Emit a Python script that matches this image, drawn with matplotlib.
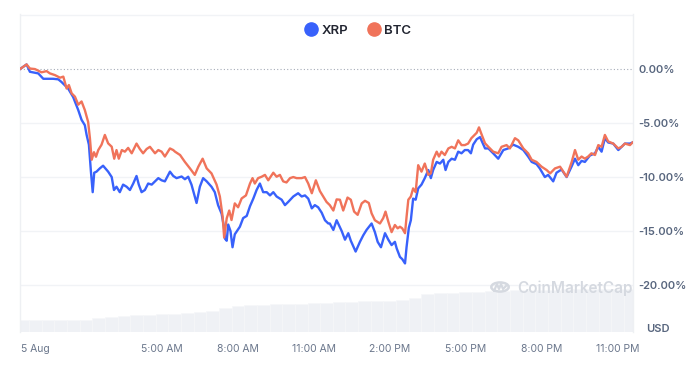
import numpy as np
import matplotlib
matplotlib.use("Agg")
import matplotlib.pyplot as plt
from matplotlib.lines import Line2D
from matplotlib.patches import Circle

plt.rcParams['font.family'] = ['Inter', 'DejaVu Sans']

# hours since 00:00 on 5 Aug, % change since start of window
xrp_hours = [-0.60, -0.34, -0.21, 0.12, 0.32, 0.71, 0.91, 1.04, 1.30, 1.50, 1.70, 1.83, 1.96, 2.03,
             2.12, 2.20, 2.27, 2.33, 2.42, 2.55, 2.68, 2.88, 3.02, 3.11, 3.21, 3.34, 3.47, 3.61,
             3.74, 3.87, 4.00, 4.09, 4.20, 4.33, 4.46, 4.60, 4.73, 4.86, 4.99, 5.12, 5.32, 5.45,
             5.58, 5.78, 5.91, 6.04, 6.17, 6.37, 6.50, 6.63, 6.77, 6.96, 7.09, 7.22, 7.36, 7.45,
             7.49, 7.56, 7.62, 7.71, 7.79, 7.88, 8.08, 8.21, 8.35, 8.48, 8.61, 8.74, 8.87, 9.00,
             9.14, 9.27, 9.40, 9.53, 9.73, 9.86, 9.99, 10.19, 10.38, 10.52, 10.65, 10.78, 10.92,
             11.04, 11.17, 11.31, 11.44, 11.57, 11.63, 11.77, 11.90, 12.10, 12.23, 12.36, 12.46,
             12.65, 12.82, 12.95, 13.08, 13.28, 13.41, 13.52, 13.65, 13.81, 13.94, 14.07, 14.20,
             14.27, 14.40, 14.49, 14.60, 14.66, 14.75, 14.83, 14.92, 15.02, 15.12, 15.25, 15.38,
             15.52, 15.62, 15.71, 15.85, 15.98, 16.11, 16.20, 16.31, 16.44, 16.57, 16.70, 16.83,
             16.96, 17.09, 17.20, 17.29, 17.43, 17.56, 17.76, 17.89, 18.08, 18.28, 18.48, 18.67,
             18.87, 19.07, 19.27, 19.46, 19.60, 19.79, 19.92, 20.12, 20.25, 20.45, 20.58, 20.78,
             20.98, 21.18, 21.31, 21.44, 21.57, 21.70, 21.90, 22.10, 22.23, 22.36, 22.49, 22.62,
             22.82, 23.02, 23.15, 23.28, 23.48, 23.58]
xrp_pct = [0.0, 0.43, -0.25, -0.40, -0.90, -0.90, -0.95, -1.20, -1.80, -2.60, -3.80, -4.70, -5.20, -6.10,
           -7.00, -9.50, -11.40, -9.60, -9.50, -9.20, -8.95, -9.50, -10.0, -11.2, -10.9, -11.4, -10.7, -10.9,
           -11.2, -10.6, -9.9, -10.7, -11.4, -11.2, -10.6, -10.7, -10.4, -10.1, -10.3, -10.4, -9.5, -9.9,
           -10.1, -9.95, -10.2, -9.97, -10.7, -12.4, -10.9, -10.1, -10.4, -10.9, -11.4, -12.6, -13.4, -14.6,
           -15.7, -15.9, -14.4, -15.0, -16.5, -15.3, -14.6, -13.8, -13.6, -12.7, -12.0, -11.2, -10.6, -11.4,
           -11.4, -11.7, -11.4, -11.8, -12.1, -12.6, -12.3, -11.8, -11.5, -11.8, -11.7, -12.0, -12.9,
           -12.6, -12.8, -13.3, -14.0, -14.3, -14.3, -14.9, -14.0, -15.0, -15.8, -15.2, -15.9,
           -16.9, -16.0, -15.4, -14.9, -14.3, -15.1, -16.0, -16.5, -15.2, -15.8, -16.3, -16.0,
           -16.6, -17.4, -17.6, -18.0, -16.5, -14.7, -14.0, -12.0, -12.1, -11.05, -10.7, -10.1,
           -9.35, -10.1, -9.35, -8.6, -8.75, -8.4, -9.35, -8.6, -8.3, -8.4, -7.65, -7.8,
           -7.5, -7.5, -7.8, -7.0, -6.5, -6.3, -7.35, -7.35, -7.8, -8.3, -7.5, -7.35,
           -7.0, -7.2, -7.5, -8.1, -8.6, -8.8, -9.2, -10.0, -9.8, -10.4, -9.6, -9.3,
           -10.0, -9.0, -8.3, -8.9, -8.5, -8.6, -8.0, -7.8, -7.2, -7.65, -6.4, -6.8,
           -6.9, -7.5, -7.2, -6.9, -6.9, -6.8]

btc_hours = [-0.60, -0.34, -0.21, -0.01, 0.25, 0.45, 0.58, 0.78, 0.98, 1.11, 1.24, 1.33, 1.44, 1.57,
             1.70, 1.83, 1.96, 2.09, 2.16, 2.23, 2.32, 2.40, 2.49, 2.62, 2.75, 2.88, 3.02, 3.12,
             3.21, 3.30, 3.42, 3.54, 3.67, 3.81, 4.00, 4.13, 4.26, 4.40, 4.53, 4.73, 4.86, 4.99,
             5.12, 5.32, 5.45, 5.52, 5.72, 5.91, 6.11, 6.30, 6.44, 6.61, 6.77, 6.96, 7.16, 7.29,
             7.40, 7.46, 7.56, 7.66, 7.75, 7.88, 8.01, 8.15, 8.32, 8.48, 8.58, 8.67, 8.80, 8.94,
             9.07, 9.20, 9.40, 9.53, 9.66, 9.79, 9.92, 10.06, 10.19, 10.32, 10.52, 10.65, 10.78,
             10.92, 11.08, 11.24, 11.37, 11.50, 11.63, 11.77, 11.90, 12.03, 12.16, 12.33, 12.46,
             12.59, 12.73, 12.89, 13.02, 13.17, 13.28, 13.41, 13.61, 13.74, 13.83, 13.94, 14.07,
             14.20, 14.31, 14.40, 14.49, 14.60, 14.66, 14.73, 14.83, 14.92, 15.02, 15.12, 15.25,
             15.38, 15.52, 15.62, 15.71, 15.85, 15.94, 16.04, 16.17, 16.31, 16.44, 16.57, 16.70,
             16.83, 16.96, 17.09, 17.22, 17.43, 17.52, 17.63, 17.76, 17.89, 18.08, 18.28, 18.41,
             18.61, 18.74, 18.94, 19.07, 19.27, 19.46, 19.60, 19.79, 19.99, 20.19, 20.33, 20.52,
             20.72, 20.98, 21.18, 21.31, 21.44, 21.57, 21.70, 21.83, 21.96, 22.10, 22.23, 22.36,
             22.49, 22.62, 22.82, 23.02, 23.15, 23.28, 23.48, 23.58]
btc_pct = [0.0, 0.43, 0.05, 0.0, -0.30, -0.19, -0.40, -0.56, -0.80, -0.70, -1.80, -1.48, -2.25, -2.56,
           -3.30, -3.00, -3.80, -4.90, -6.40, -8.40, -7.70, -8.12, -7.50, -7.00, -6.10, -6.88, -7.19, -8.30,
           -7.50, -8.30, -7.50, -7.65, -7.30, -7.80, -6.90, -7.40, -7.80, -7.40, -7.20, -7.80, -7.50, -7.65,
           -8.10, -7.35, -7.50, -7.65, -7.96, -8.60, -9.20, -9.80, -9.04, -8.30, -9.20, -9.66, -10.7, -11.8,
           -13.67, -15.6, -13.83, -13.1, -13.98, -12.44, -12.8, -11.98, -11.7, -10.6, -10.1, -10.6, -10.1, -9.97,
           -9.8, -10.3, -9.6, -9.97, -9.8, -10.4, -10.5, -10.1, -10.0, -10.1, -10.1, -10.0, -10.6,
           -11.5, -10.3, -11.3, -11.8, -12.3, -12.6, -13.1, -12.07, -12.1, -13.1, -11.9, -12.1,
           -13.2, -13.5, -12.44, -12.2, -12.4, -13.36, -14.0, -14.3, -13.8, -13.2, -14.13, -15.1,
           -14.44, -14.75, -14.6, -14.75, -15.2, -13.7, -12.1, -11.8, -11.05, -11.4, -8.9, -9.5,
           -8.75, -9.8, -9.66, -8.4, -7.65, -8.1, -7.65, -7.96, -7.35, -7.2, -7.35, -6.6,
           -7.04, -7.04, -6.9, -6.4, -5.9, -5.4, -6.1, -6.88, -7.2, -7.65, -7.8, -7.2,
           -7.04, -7.35, -6.4, -6.6, -7.35, -7.8, -8.4, -8.6, -9.04, -9.35, -9.66, -9.2,
           -9.04, -9.97, -8.6, -7.5, -8.4, -8.1, -8.3, -8.1, -7.8, -7.96, -7.04, -7.2,
           -6.1, -6.7, -6.9, -7.35, -7.2, -6.9, -7.04, -6.8]

# rolling volume (relative units), half-hour bars
vol_hours = np.arange(-0.5, 23.51, 0.5)
vol_values = [12, 12, 12, 12, 12, 12, 14, 15, 16, 17, 17.5, 18, 18.5, 19, 20, 21, 24, 26, 27, 27.5,
              28, 28, 28.5, 29, 29, 30, 30.5, 31, 31, 31.5, 32, 34, 38, 39, 39.5, 40, 40.5, 41,
              41.5, 42, 42, 42.5, 42.5, 43, 43, 43, 43, 43, 43]

tick_hours = [0, 5, 8, 11, 14, 17, 20, 23]
tick_labels = ['5 Aug', '5:00 AM', '8:00 AM', '11:00 AM', '2:00 PM', '5:00 PM', '8:00 PM', '11:00 PM']
y_ticks = [0, -5, -10, -15, -20]
y_labels = ['0.00%', '-5.00%', '-10.00%', '-15.00%', '-20.00%']

xrp_color = '#3861fb'
btc_color = '#f0735a'
grey_text = '#58667e'

fig = plt.figure(figsize=(6.96, 3.65), dpi=100)
ax = fig.add_axes([20 / 696, 1 - 332 / 365, 613 / 696, 318 / 365])
axv = ax.twinx()
ax.set_zorder(axv.get_zorder() + 1)
ax.patch.set_visible(False)

axv.bar(vol_hours, vol_values, width=0.5, color='#eff1f5', edgecolor='#f6f7f9', linewidth=0.4)
axv.set_ylim(0, 318)
axv.axis('off')

for g in [5, -5, -10, -15, -20]:
    ax.axhline(g, color='#f1f3f6', lw=1, zorder=0)
ax.axhline(0, color='#a6acb8', lw=0.8, ls=(0, (1, 2)), zorder=1)

ax.plot(xrp_hours, xrp_pct, color=xrp_color, lw=1.7, zorder=3)
ax.plot(btc_hours, btc_pct, color=btc_color, lw=1.7, zorder=4)

ax.set_xlim(-0.6, 23.6)
ax.set_ylim(-24.35, 5.1)

ax.yaxis.tick_right()
ax.set_yticks(y_ticks)
ax.set_yticklabels(y_labels)
ax.set_xticks(tick_hours)
ax.set_xticklabels(tick_labels)
ax.tick_params(axis='y', length=0, pad=4, labelsize=8, labelcolor=grey_text)
ax.tick_params(axis='x', length=0, pad=9, labelsize=7.5, labelcolor='#6b778c')
for lab in ax.get_yticklabels():
    lab.set_fontweight('semibold')

for side in ['top', 'bottom']:
    ax.spines[side].set_visible(False)
for side in ['left', 'right']:
    ax.spines[side].set_color('#eef0f3')
    ax.spines[side].set_linewidth(1)

fig.text(658 / 696, 1 - 329 / 365, 'USD', ha='center', va='center', fontsize=8,
         fontweight='semibold', color=grey_text)

# watermark
wm = '#d5d9e0'
fig.text(517 / 696, 1 - 288 / 365, 'CoinMarketCap', ha='left', va='center', fontsize=11,
         fontweight='semibold', color=wm)
fig.patches.append(Circle((500 / 696, 1 - 287 / 365), 0.0125, transform=fig.transFigure,
                          fill=False, ec=wm, lw=1.8))
wave_x = np.array([494, 497, 499, 501, 503, 506]) / 696
wave_y = 1 - np.array([291, 284, 289, 284, 289, 286]) / 365
fig.lines.append(Line2D(wave_x, wave_y, transform=fig.transFigure, color=wm, lw=1.6,
                        solid_joinstyle='round', solid_capstyle='round'))

handles = [Line2D([], [], marker='o', ls='', ms=9.5, color=xrp_color),
           Line2D([], [], marker='o', ls='', ms=9.5, color=btc_color)]
fig.legend(handles, ['XRP', 'BTC'], loc='center', bbox_to_anchor=(358 / 696, 1 - 31 / 365),
           ncol=2, frameon=False, handletextpad=0.3, columnspacing=1.4, handlelength=1.0,
           prop={'size': 9.5, 'weight': 'semibold'}, labelcolor='#222531')

fig.savefig('out.png', dpi=100)
